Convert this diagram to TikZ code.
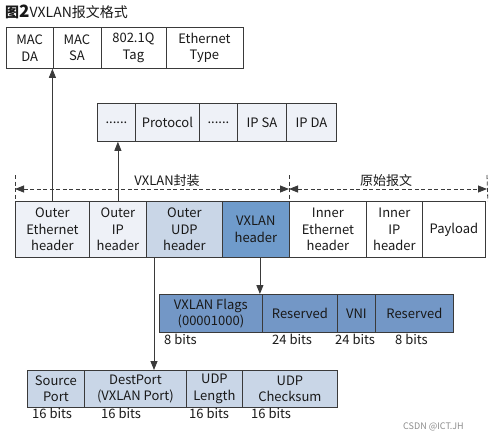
\documentclass[tikz,border=0pt]{standalone}
\usepackage{fontspec}
\setmainfont{Noto Sans CJK SC}
\usetikzlibrary{arrows.meta}
\definecolor{lgray}{HTML}{EEF1F7}
\definecolor{lblue}{HTML}{C9D6E7}
\definecolor{mblue}{HTML}{6F9BCB}
\definecolor{fblue}{HTML}{7397C6}
\definecolor{edge}{HTML}{3A3A3A}
\tikzset{
  cell/.style={draw=edge, line width=0.8pt, anchor=north west, inner sep=0pt, align=center,
    font=\fontsize{13}{16.5}\selectfont, text=black!90},
  bits/.style={anchor=north west, inner sep=0pt, font=\fontsize{13}{14}\selectfont, text=black!90},
  arr/.style={draw=edge, line width=0.8pt, -{Triangle[length=9pt,width=7pt]}},
  darr/.style={draw=edge, line width=0.8pt, dash pattern=on 4pt off 2.5pt, {Triangle[length=9pt,width=7pt]}-{Triangle[length=9pt,width=7pt]}},
  tick/.style={draw=edge, line width=0.8pt, dash pattern=on 4pt off 2.5pt},
  lbl/.style={inner sep=0pt, font=\fontsize{13}{14}\selectfont, text=black!90}
}
\newcommand{\cellat}[7]{\node[cell, fill=#6, minimum width=#3pt, minimum height=#4pt] (#7) at (#1,#2) {#5};}
\begin{document}
\begin{tikzpicture}[x=1pt,y=-1pt]
\useasboundingbox (0,0) rectangle (495,440);
% title
\node[anchor=west, inner sep=0pt, text=black!90] (title) at (5,12) {\fontsize{14}{15}\selectfont\textbf{图}{\fontsize{17}{17}\selectfont\textbf{2}}VXLAN报文格式};
% top ethernet box
\cellat{6}{27}{46.5}{41}{MAC\\DA}{white}{macda}
\cellat{52.5}{27}{48}{41}{MAC\\SA}{white}{macsa}
\cellat{100.5}{27}{65}{41}{802.1Q\\Tag}{white}{tag}
\cellat{165.5}{27}{77}{41}{Ethernet\\Type}{white}{ethtype}
% ip box
\cellat{97}{103}{38}{38}{......}{lgray}{ipdots1}
\cellat{135}{103}{64}{38}{Protocol}{lgray}{proto}
\cellat{199}{103}{38}{38}{......}{lgray}{ipdots2}
\cellat{237}{103}{49}{38}{IP SA}{lgray}{ipsa}
\cellat{286}{103}{50}{38}{IP DA}{lgray}{ipda}
% main row
\cellat{15}{201}{74}{56}{Outer\\Ethernet\\header}{lgray}{oeth}
\cellat{89}{201}{57}{56}{Outer\\IP\\header}{lgray}{oip}
\cellat{146}{201}{76}{56}{Outer\\UDP\\header}{lblue}{oudp}
\cellat{222}{201}{67}{56}{VXLAN\\header}{mblue}{vxh}
\cellat{289}{201}{77}{56}{Inner\\Ethernet\\header}{white}{ieth}
\cellat{366}{201}{56}{56}{Inner\\IP\\header}{white}{iip}
\cellat{422}{201}{63}{56}{Payload}{white}{pay}
% vxlan header fields
\cellat{159}{294}{103}{38}{VXLAN Flags\\(00001000)}{fblue}{flags}
\cellat{262}{294}{75}{38}{Reserved}{fblue}{res1}
\cellat{337}{294}{38}{38}{VNI}{fblue}{vni}
\cellat{375}{294}{78}{38}{Reserved}{fblue}{res2}
\node[bits] (b1) at (164,334) {8 bits};
\node[bits] (b2) at (272,334) {24 bits};
\node[bits] (b3) at (335,334) {24 bits};
\node[bits] (b4) at (395,334) {8 bits};
% udp header fields
\cellat{27}{370}{57}{37}{Source\\Port}{lblue}{sport}
\cellat{84}{370}{102}{37}{DestPort\\(VXLAN Port)}{lblue}{dport}
\cellat{186}{370}{56}{37}{UDP\\Length}{lblue}{ulen}
\cellat{242}{370}{95}{37}{UDP\\Checksum}{lblue}{ucs}
\node[bits] (u1) at (32,408) {16 bits};
\node[bits] (u2) at (101,408) {16 bits};
\node[bits] (u3) at (189,408) {16 bits};
\node[bits] (u4) at (251,408) {16 bits};
% dashed range arrows
\coordinate (t1) at (15,175);
\coordinate (t2) at (289,175);
\coordinate (t3) at (487,175);
\draw[tick] (t1) -- (oeth.north west);
\draw[tick] (t2) -- (ieth.north west);
\draw[tick] (t3) -- ([xshift=2]pay.north east);
\draw[darr] ([yshift=-14]t1) -- ([yshift=-14]t2);
\draw[darr] ([yshift=-14]t2) -- ([yshift=-14]t3);
\node[lbl] (encap) at (167,181) {VXLAN封装};
\node[lbl] (orig) at (386,181) {原始报文};
% connectors
\draw[arr] (oeth.north) -- (oeth.north |- macda.south);
\draw[arr] (oip.north) -- (oip.north |- ipdots1.south);
\coordinate (udpdown) at ([xshift=8]oudp.south west);
\draw[arr] (udpdown) -- (udpdown |- dport.north);
\coordinate (vxdown) at ([xshift=4]vxh.south);
\draw[arr] (vxdown) -- (vxdown |- flags.north);
% watermark
\node[anchor=west, inner sep=0pt, text=black!45, font=\fontsize{9}{10}\selectfont] (wm) at (403,427) {CSDN @ICT.JH};
\end{tikzpicture}
\end{document}
